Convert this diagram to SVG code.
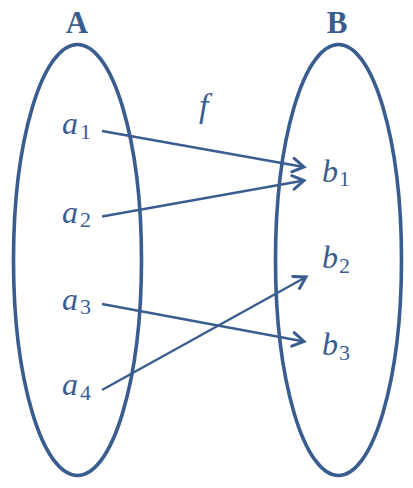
<svg xmlns="http://www.w3.org/2000/svg" width="413" height="488" viewBox="0 0 413 488">
<style>
.set{fill:none;stroke:#3a5d8f;stroke-width:3.6}
.edge{fill:none;stroke:#3a5d8f;stroke-width:2.4}
.lab{font-family:"Liberation Serif","DejaVu Serif",serif;font-style:italic;fill:#3a5d8f;font-size:32px}
.sub{font-style:normal;font-size:22px}
.title{font-family:"Liberation Serif","DejaVu Serif",serif;font-weight:bold;fill:#3a5d8f;font-size:31px;text-anchor:middle}
</style>
<defs>
<marker id="arr" markerUnits="userSpaceOnUse" markerWidth="20" markerHeight="20" refX="0" refY="0" viewBox="-12 -8 14 16" orient="auto" overflow="visible">
<path d="M-9,-5.5 L0,0 L-9,5.5" fill="none" stroke="#3a5d8f" stroke-width="2.4" stroke-linecap="round"/>
</marker>
</defs>
<rect width="413" height="488" fill="#fff"/>
<g id="setA">
<ellipse class="set" cx="77.5" cy="260" rx="64" ry="215.5"/>
<text class="title" x="77" y="33">A</text>
</g>
<g id="setB">
<ellipse class="set" cx="338.5" cy="260" rx="63" ry="215.5"/>
<text class="title" x="337" y="33">B</text>
</g>
<g id="a1"><text class="lab" x="62" y="134">a<tspan class="sub" dx="2" dy="5">1</tspan></text></g>
<g id="a2"><text class="lab" x="62" y="223">a<tspan class="sub" dx="2" dy="4">2</tspan></text></g>
<g id="a3"><text class="lab" x="62" y="310">a<tspan class="sub" dx="2" dy="4">3</tspan></text></g>
<g id="a4"><text class="lab" x="62" y="395">a<tspan class="sub" dx="2" dy="5">4</tspan></text></g>
<g id="b1"><text class="lab" x="322" y="182">b<tspan class="sub" dx="1" dy="4">1</tspan></text></g>
<g id="b2"><text class="lab" x="322" y="268">b<tspan class="sub" dx="1" dy="5">2</tspan></text></g>
<g id="b3"><text class="lab" x="322" y="355">b<tspan class="sub" dx="1" dy="5">3</tspan></text></g>
<g id="f"><text class="lab" x="199" y="117" style="font-size:34px">f</text></g>
<g id="connectors">
<line class="edge" x1="102" y1="131" x2="304" y2="167" marker-end="url(#arr)"/>
<line class="edge" x1="102" y1="216.5" x2="304" y2="180.5" marker-end="url(#arr)"/>
<line class="edge" x1="102" y1="304" x2="304" y2="341.5" marker-end="url(#arr)"/>
<line class="edge" x1="102" y1="390" x2="306" y2="277" marker-end="url(#arr)"/>
</g>
</svg>
